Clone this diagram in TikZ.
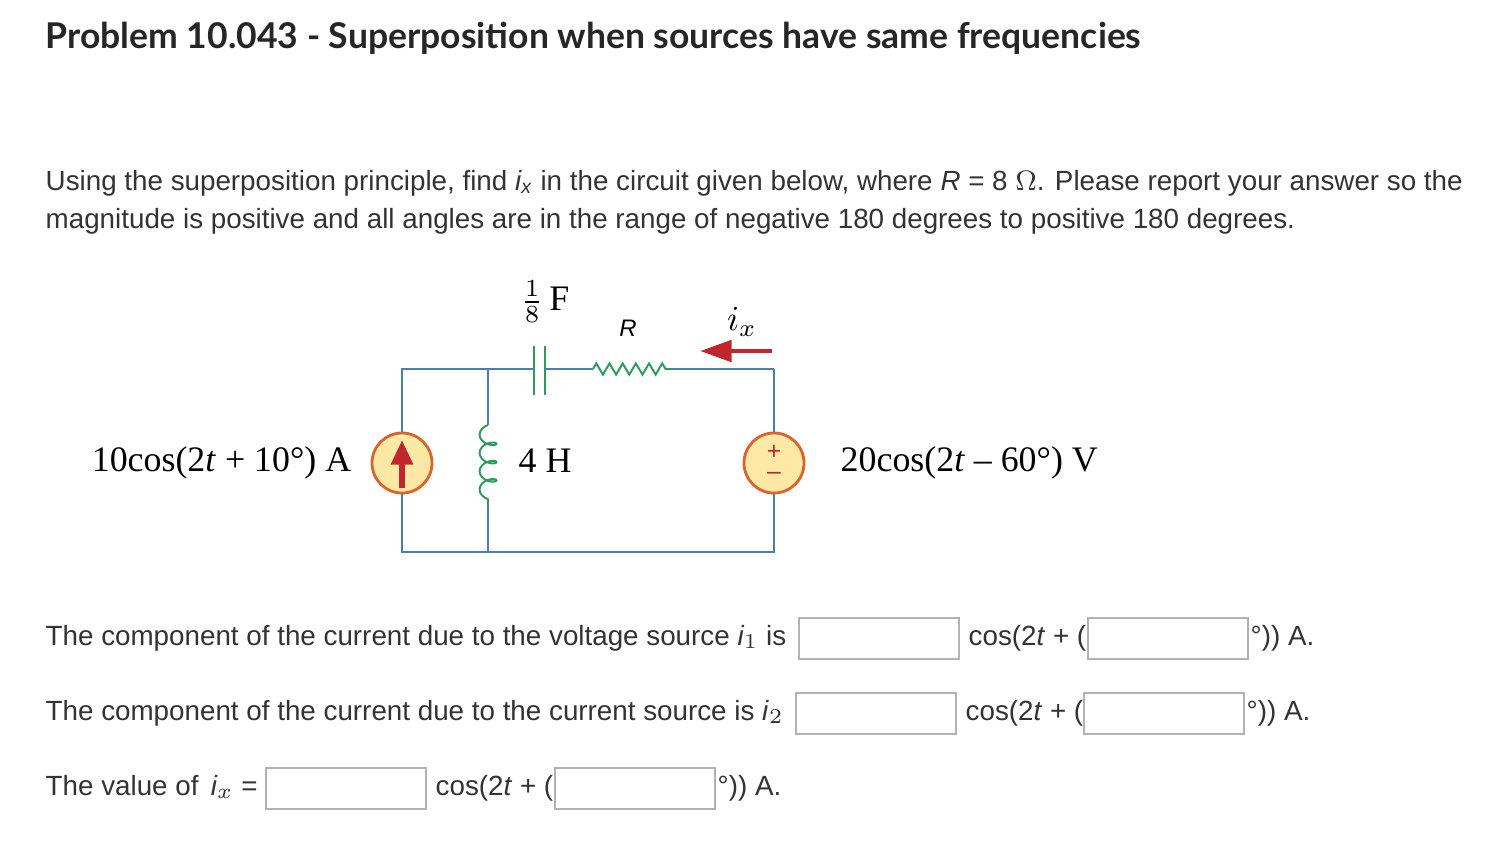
\documentclass[tikz,border=0pt]{standalone}
\usepackage{fontspec}
\setmainfont{Liberation Sans}
\newfontfamily\serif{Liberation Serif}
\newfontfamily\titlef{Lato}
\usetikzlibrary{decorations.pathmorphing,arrows.meta}
\definecolor{wire}{HTML}{4A7EB0}
\definecolor{comp}{HTML}{2E9A5C}
\definecolor{srcfill}{HTML}{FDE8A6}
\definecolor{srcdraw}{HTML}{D9652B}
\definecolor{arr}{HTML}{C0272D}
\definecolor{txt}{HTML}{333333}
\begin{document}
\begin{tikzpicture}[x=0.01cm,y=-0.01cm,
  body/.style={anchor=base west,inner sep=0,text=txt,font=\fontsize{7.9pt}{9pt}\selectfont},
  box/.style={draw=black!30,line width=0.6pt,minimum width=1.6cm,minimum height=0.41cm,inner sep=0,anchor=north west},
  w/.style={draw=wire,line width=0.55pt},
  c/.style={draw=comp,line width=0.55pt},
  src/.style={circle,draw=srcdraw,fill=srcfill,line width=0.8pt,minimum size=0.6cm,inner sep=0},
  lab/.style={inner sep=0,font=\serif\fontsize{10.2pt}{11pt}\selectfont}]
\useasboundingbox (0,0) rectangle (1486,844);
\node[body,font=\titlef\bfseries\fontsize{10.1pt}{11pt}\selectfont,text=black!85] (title) at (45,48) {Problem 10.043 - Superposition when sources have same frequencies};
\node[body] (p1) at (45,190) {Using the superposition principle, find \textit{i$_{\mathit{x}}$} in the circuit given below, where \textit{R} = 8 $\Omega$. Please report your answer so the};
\node[body] (p2) at (45,228) {magnitude is positive and all angles are in the range of negative 180 degrees to positive 180 degrees.};
% circuit
\coordinate (tl) at (402,369); \coordinate (tm) at (488,369); \coordinate (tr) at (774,369);
\coordinate (bl) at (402,552); \coordinate (bm) at (488,552); \coordinate (br) at (774,552);
\node[src] (is) at (402,463) {};
\node[src] (vs) at (774,463) {};
\draw[w] (is.north) -- (tl) -- (tm);
\draw[w] (vs.north) -- (tr);
\draw[w] (is.south) -- (bl) -- (br) -- (vs.south);
\draw[w] (tm) -- (488,425) (488,503) -- (bm);
\coordinate (c1) at (534,369); \coordinate (c2) at (545,369);
\draw[c] (534,346) -- (534,395) (545,346) -- (545,395);
\draw[w] (tm) -- (c1) (c2) -- (593,369);
\coordinate (r1) at (593,369); \coordinate (r2) at (672,369);
\draw[c,decorate,decoration={zigzag,segment length=3.75pt,amplitude=1.6pt}] (r1) -- (r2);
\draw[w] (r2) -- (tr);
\coordinate (l1) at (488,425); \coordinate (l2) at (488,503);
\draw[c,decorate,decoration={coil,aspect=0.6,segment length=5.2pt,amplitude=2.4pt,mirror}] (l1) -- (l2);
\draw[arr,line width=1.6pt,-{Triangle[length=7pt,width=6pt]}] (402,488) -- (402,440);
\node[inner sep=0,font=\fontsize{7pt}{8pt}\selectfont,text=arr] (plus) at (774,452) {+};
\node[inner sep=0,font=\fontsize{7pt}{8pt}\selectfont,text=arr] (minus) at (774,476) {–};
\coordinate (a1) at (772,351); \coordinate (a2) at (700,351);
\draw[arr,line width=1.4pt,-{Triangle[length=9pt,width=6pt]}] (a1) -- (a2);
\node[lab] (cap) at (545,302) {$\frac{1}{8}$\,F};
\node[inner sep=0,font=\itshape\fontsize{6.8pt}{8pt}\selectfont] (rl) at (628,328) {R};
\node[lab] (ixl) at (742,322) {$i_x$};
\node[lab,anchor=west] (lh) at (518,461) {4 H};
\node[lab,anchor=east] (il) at (352,463) {10cos(2\textit{t} + 10°) A};
\node[lab,anchor=west] (vl) at (840,463) {20cos(2\textit{t} – 60°) V};
% questions
\node[body] (q1) at (45,645) {The component of the current due to the voltage source \textit{i$_{1}$} is};
\node[box] (b11) at (798,617) {}; \node[body] (t11) at (968,645) {cos(2\textit{t} + (};
\node[box] (b12) at (1087,617) {}; \node[body] (t12) at (1250,645) {°)) A.};
\node[body] (q2) at (45,720) {The component of the current due to the current source is \textit{i}$_{2}$};
\node[box] (b21) at (795,692) {}; \node[body] (t21) at (965,720) {cos(2\textit{t} + (};
\node[box] (b22) at (1083,692) {}; \node[body] (t22) at (1246,720) {°)) A.};
\node[body] (q3) at (45,795) {The value of\, \textit{i$_{x}$} =};
\node[box] (b31) at (265,767) {}; \node[body] (t31) at (435,795) {cos(2\textit{t} + (};
\node[box] (b32) at (554,767) {}; \node[body] (t32) at (717,795) {°)) A.};
\end{tikzpicture}
\end{document}
